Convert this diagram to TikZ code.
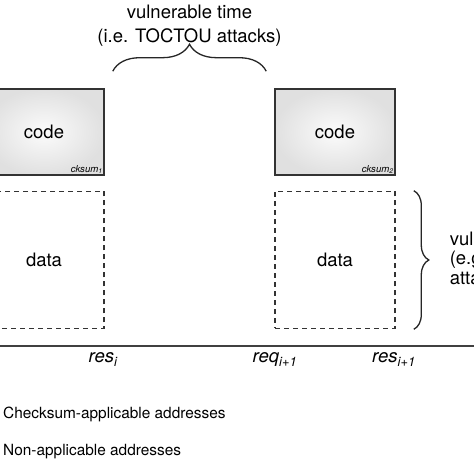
\documentclass[tikz,border=0pt]{standalone}
\usepackage{fontspec}
\setmainfont{TeX Gyre Heros}
\usetikzlibrary{decorations.pathreplacing,shapes}
\newcommand\lbl{\fontsize{18.5}{24}\selectfont}
\tikzstyle{cbox}=[rectangle,draw=black!80,line width=1.6pt,inner color=gray!3,outer color=gray!24,minimum width=120pt,minimum height=86pt,font=\lbl]
\tikzstyle{dbox}=[rectangle,draw=black!80,line width=1.6pt,dash pattern=on 5pt off 4pt,minimum width=120pt,minimum height=137pt,font=\lbl]
\tikzstyle{sum}=[anchor=south east,inner sep=2pt,font=\fontsize{9.6}{11}\selectfont\itshape]
\tikzstyle{tick}=[anchor=base,font=\lbl\itshape]
\tikzstyle{lgnd}=[anchor=west,inner sep=0pt,font=\fontsize{15.4}{18}\selectfont]
\tikzstyle{brc}=[line width=1.3pt,draw=black!85,decorate]

\begin{document}
\begin{tikzpicture}[x=1pt,y=1pt,node distance=128pt]
  \useasboundingbox (0,0) rectangle (474,474);
  \clip (0,0) rectangle (474,474);

  \node[cbox] (c1) at (44,342) {code};
  \node[sum]  (k1) at (c1.south east) {cksum\textsubscript{1}};
  \node[dbox] (d1) [below of=c1] {data};

  \node[cbox] (c2) [right of=c1,node distance=291pt] {code};
  \node[sum]  (k2) at (c2.south east) {cksum\textsubscript{2}};
  \node[dbox] (d2) [below of=c2] {data};

  % time axis
  \draw[line width=1.6pt,draw=black!75] (0,128) -- (474,128);
  \node[tick] (r1) at (103,111) {res\textsubscript{i}};
  \node[tick] (q2) at (275,111) {req\textsubscript{i+1}};
  \node[tick] (r2) at (394,111) {res\textsubscript{i+1}};

  % braces
  \coordinate (b1) at ([xshift=8pt,yshift=17pt]c1.north east);
  \coordinate (b2) at ([xshift=-8pt,yshift=17pt]c2.north west);
  \draw[brc,decoration={brace,amplitude=27pt}] (b1) -- (b2)
    node[midway,above=24pt,align=center,font=\lbl,inner sep=0pt] (vt) {vulnerable time\\(i.e. TOCTOU attacks)};

  \coordinate (b3) at ([xshift=18pt]d2.north east);
  \coordinate (b4) at ([xshift=18pt]d2.south east);
  \draw[brc,decoration={brace,amplitude=15pt}] (b3) -- (b4)
    node[midway,right=32pt,align=left,font=\fontsize{18.5}{19.5}\selectfont] (vs) {vulnerable\\(e.g.\\attacks)};

  % legend
  \node[lgnd] (l1) at (3,60) {Checksum-applicable addresses};
  \node[lgnd] (l2) at (3,22) {Non-applicable addresses};
\end{tikzpicture}
\end{document}
